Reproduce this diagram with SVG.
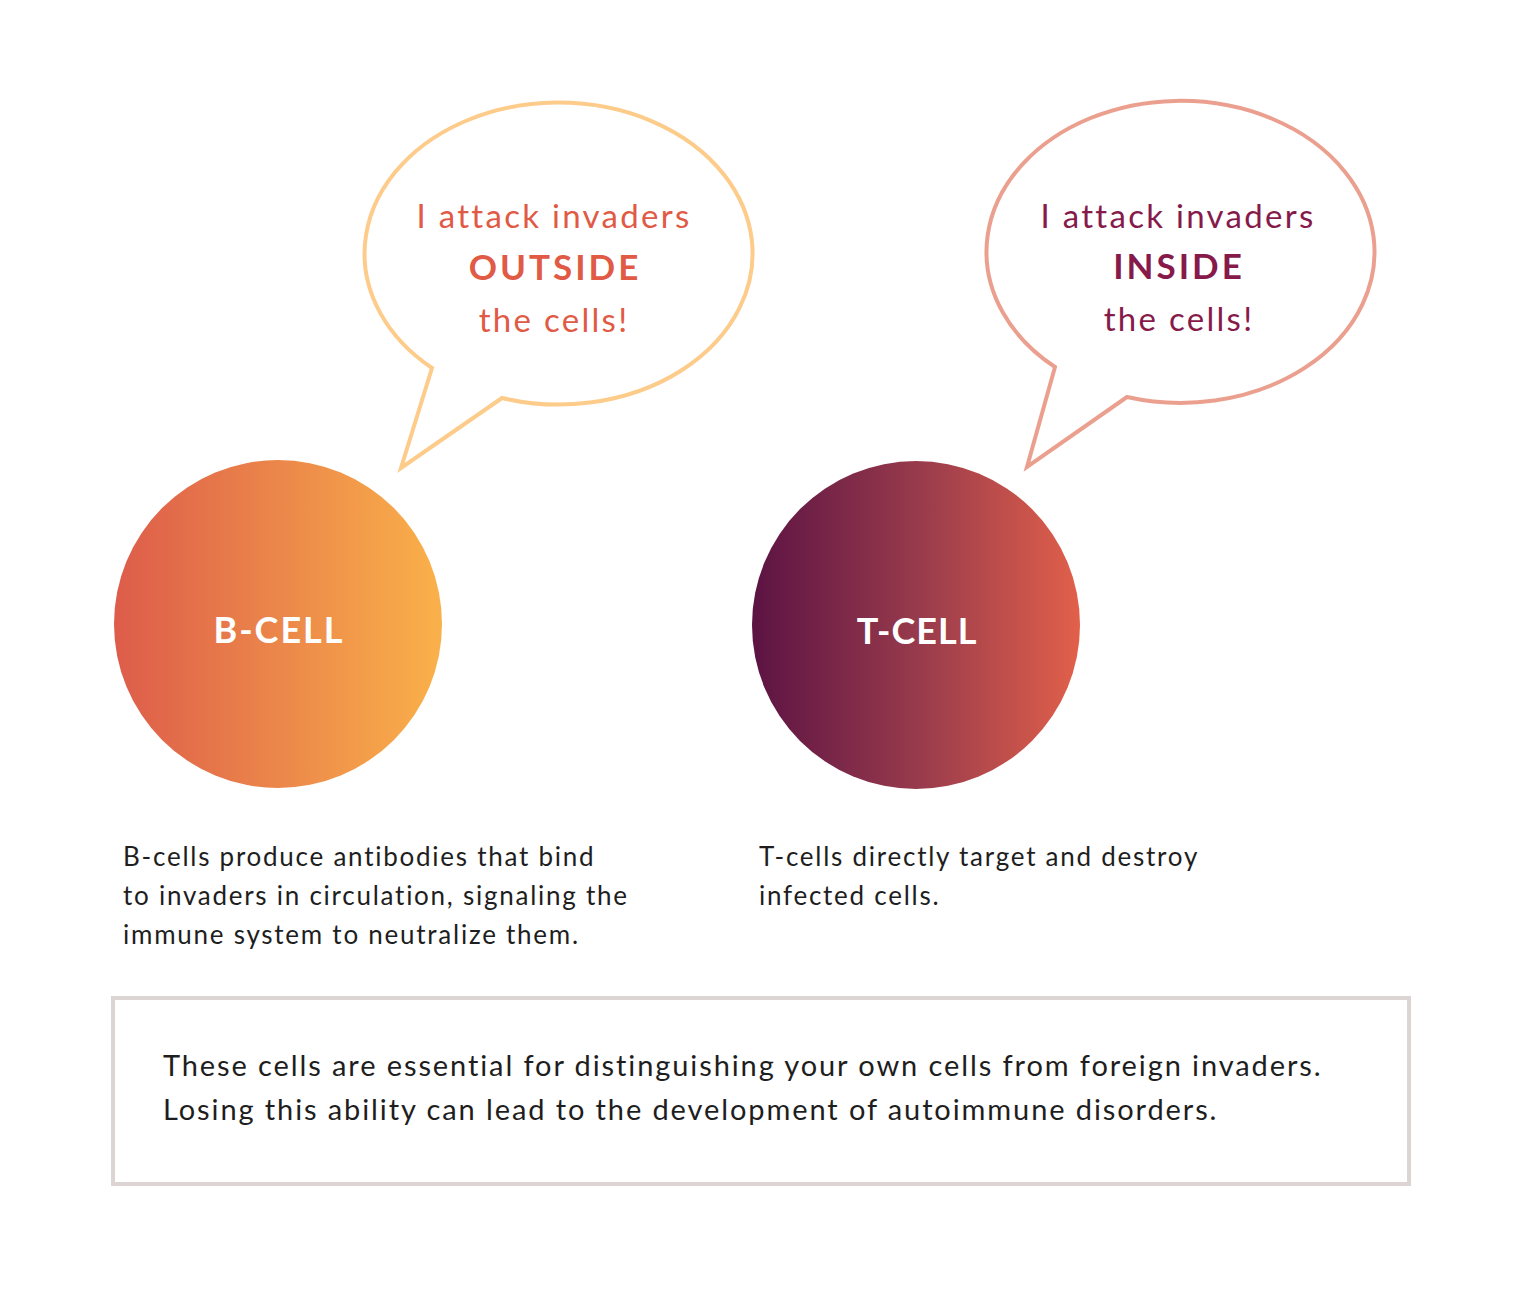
<svg xmlns="http://www.w3.org/2000/svg" width="1536" height="1289" viewBox="0 0 1536 1289">
<style>
.bubble{fill:#FFFFFF;stroke-width:4;stroke-linejoin:miter}
.bt{font-family:Lato,"Open Sans",sans-serif;font-size:33px;text-anchor:middle;letter-spacing:2.3px}
.bb{font-family:Lato,"Open Sans",sans-serif;font-size:35px;font-weight:bold;text-anchor:middle;letter-spacing:3px}
.cl{font-family:Lato,"Open Sans",sans-serif;font-size:36px;font-weight:bold;fill:#FFFFFF;text-anchor:middle;letter-spacing:2px}
.desc{font-family:Lato,"Open Sans",sans-serif;font-size:26px;fill:#1E1E1E;letter-spacing:1.75px}
.note{font-family:Lato,"Open Sans",sans-serif;font-size:29px;fill:#1E1E1E;letter-spacing:1.9px}
</style>
<defs>
<linearGradient id="gB" x1="0" y1="0" x2="1" y2="0">
<stop offset="0" stop-color="#DD5C4A"/>
<stop offset="1" stop-color="#FAB14A"/>
</linearGradient>
<linearGradient id="gT" x1="0" y1="0" x2="1" y2="0">
<stop offset="0" stop-color="#5C1343"/>
<stop offset="0.5" stop-color="#973A4C"/>
<stop offset="1" stop-color="#E1604A"/>
</linearGradient>
</defs>
<rect width="1536" height="1289" fill="#FFFFFF"/>
<g id="bubble-b">
<path class="bubble" stroke="#FDCB8A" d="M 432 368 L 401 468 L 502 398 A 194 151 0 1 0 432 368 Z"/>
<text class="bt" x="554" y="228" fill="#E05A45">I attack invaders</text>
<text class="bb" x="555" y="280" fill="#E05A45">OUTSIDE</text>
<text class="bt" x="554" y="332" fill="#E05A45">the cells!</text>
</g>
<g id="bubble-t">
<path class="bubble" stroke="#EBA08F" d="M 1055 367 L 1027 467 L 1127 397 A 194 151 0 1 0 1055 367 Z"/>
<text class="bt" x="1178" y="228" fill="#861A4A">I attack invaders</text>
<text class="bb" x="1179" y="279" fill="#861A4A">INSIDE</text>
<text class="bt" x="1179" y="331" fill="#861A4A">the cells!</text>
</g>
<g id="b-cell">
<circle cx="278" cy="624" r="164" fill="url(#gB)"/>
<text class="cl" x="279" y="643">B-CELL</text>
</g>
<g id="t-cell">
<circle cx="916" cy="625" r="164" fill="url(#gT)"/>
<text class="cl" x="917" y="644" style="letter-spacing:1px">T-CELL</text>
</g>
<g id="b-desc">
<text class="desc" x="123" y="866">B-cells produce antibodies that bind</text>
<text class="desc" x="123" y="905">to invaders in circulation, signaling the</text>
<text class="desc" x="123" y="944">immune system to neutralize them.</text>
</g>
<g id="t-desc">
<text class="desc" x="759" y="866">T-cells directly target and destroy</text>
<text class="desc" x="759" y="905">infected cells.</text>
</g>
<g id="note">
<rect x="113" y="998" width="1296" height="186" fill="#FFFFFF" stroke="#DDD5D3" stroke-width="4"/>
<text class="note" x="163" y="1076">These cells are essential for distinguishing your own cells from foreign invaders.</text>
<text class="note" x="163" y="1120">Losing this ability can lead to the development of autoimmune disorders.</text>
</g>
<g id="connectors"></g>
</svg>
